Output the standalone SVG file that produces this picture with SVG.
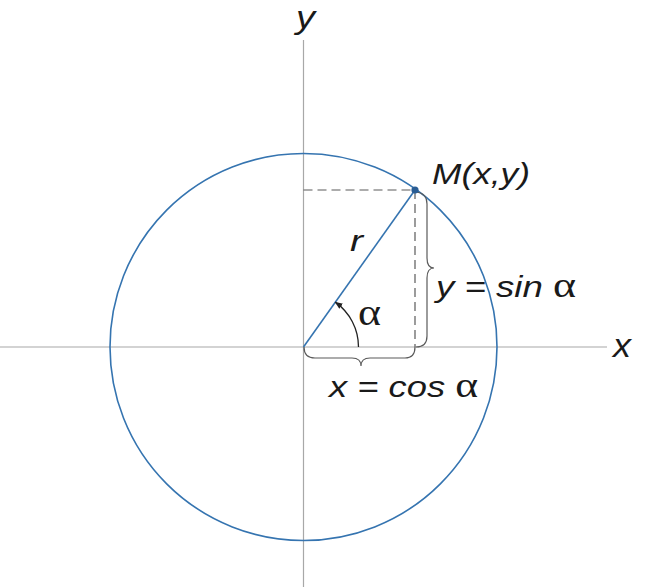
<svg xmlns="http://www.w3.org/2000/svg" width="650" height="587" viewBox="0 0 650 587">
<defs>
<style>
.axis{stroke:#a8a8a8;stroke-width:1.2;fill:none}
.blue{stroke:#3574b0;stroke-width:1.6;fill:none}
.dash{stroke:#5a5a5a;stroke-width:1.2;stroke-dasharray:9 5;fill:none}
.brace{stroke:#5a5a5a;stroke-width:1.2;fill:none}
.lbl{font-family:"Liberation Sans",Arial,sans-serif;font-style:italic;fill:#1a1a1a}
.greek{font-family:"Liberation Serif","Times New Roman",serif;font-style:normal}
</style>
<marker id="arr" viewBox="0 0 10 10" refX="9" refY="5" markerWidth="8" markerHeight="8" markerUnits="userSpaceOnUse" orient="auto">
<path d="M0,1 L10,5 L0,9 z" fill="#222"/>
</marker>
</defs>
<rect width="650" height="587" fill="#fff"/>
<g id="axes">
<line class="axis" x1="0" y1="347" x2="607" y2="347"/>
<line class="axis" x1="303.5" y1="40" x2="303.5" y2="587"/>
</g>
<g id="circle">
<circle class="blue" cx="303.5" cy="347" r="193.5"/>
</g>
<g id="connectors">
<line class="blue" x1="303.5" y1="347" x2="415" y2="190"/>
<line class="dash" x1="303.5" y1="190" x2="415" y2="190"/>
<line class="dash" x1="415" y1="190" x2="415" y2="347"/>
<path class="brace" d="M416,192 Q427,193 427,204 L427,258 Q427,268 434,268 Q427,268 427,278 L427,336 Q427,347 416,347"/>
<path class="brace" d="M304,347 Q304,358 315,358 L352,358 Q361,358 361,366 Q361,358 370,358 L405,358 Q415,358 415,347"/>
<path d="M358.5,347 A55,55 0 0 0 335.3,302.1" fill="none" stroke="#222" stroke-width="1.3" marker-end="url(#arr)"/>
</g>
<g id="point-M">
<circle cx="415" cy="190" r="3.6" fill="#2a5d94"/>
</g>
<g id="labels">
<text class="lbl" x="296" y="28" font-size="32" textLength="19" lengthAdjust="spacingAndGlyphs">y</text>
<text class="lbl" x="613" y="357" font-size="33" textLength="18" lengthAdjust="spacingAndGlyphs">x</text>
<text class="lbl" x="432" y="184" font-size="30" textLength="98" lengthAdjust="spacingAndGlyphs">M(x,y)</text>
<text class="lbl" x="350" y="251" font-size="30" textLength="13" lengthAdjust="spacingAndGlyphs">r</text>
<text class="lbl" x="436" y="297" font-size="30" textLength="140" lengthAdjust="spacingAndGlyphs">y = sin <tspan class="greek" font-size="36">α</tspan></text>
<text class="lbl" x="329" y="397" font-size="30" textLength="149" lengthAdjust="spacingAndGlyphs">x = cos <tspan class="greek" font-size="36">α</tspan></text>
<text class="lbl greek" x="358" y="325" font-size="38" textLength="23" lengthAdjust="spacingAndGlyphs">α</text>
</g>
</svg>
